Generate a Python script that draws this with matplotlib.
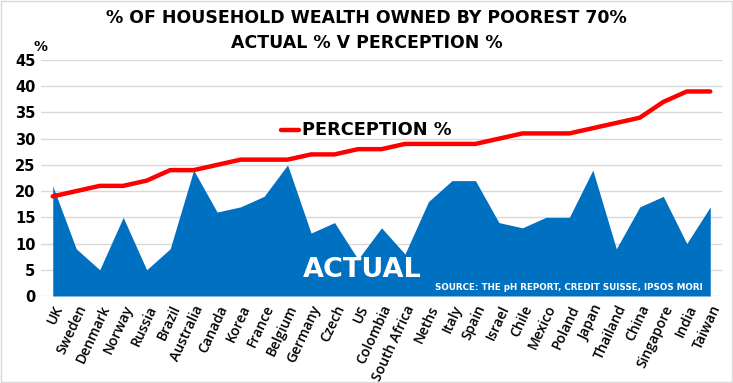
import matplotlib.pyplot as plt
from matplotlib.patches import Rectangle

countries = ['UK', 'Sweden', 'Denmark', 'Norway', 'Russia', 'Brazil', 'Australia',
             'Canada', 'Korea', 'France', 'Belgium', 'Germany', 'Czech', 'US',
             'Colombia', 'South Africa', 'Neths', 'Italy', 'Spain', 'Israel',
             'Chile', 'Mexico', 'Poland', 'Japan', 'Thailand', 'China',
             'Singapore', 'India', 'Taiwan']
actual = [21, 9, 5, 15, 5, 9, 24, 16, 17, 19, 25, 12, 14, 7, 13, 8, 18, 22, 22,
          14, 13, 15, 15, 24, 9, 17, 19, 10, 17]
perception = [19, 20, 21, 21, 22, 24, 24, 25, 26, 26, 26, 27, 27, 28, 28, 29, 29,
              29, 29, 30, 31, 31, 31, 32, 33, 34, 37, 39, 39]
yticks = [0, 5, 10, 15, 20, 25, 30, 35, 40, 45]

fig = plt.figure(figsize=(7.33, 3.83), dpi=100)
ax = fig.add_axes([41 / 733, 1 - 296 / 383, 681 / 733, 236 / 383])

x = list(range(len(countries)))
ax.fill_between(x, actual, 0, color='#0070C0', linewidth=0, zorder=2)
ax.plot(x, perception, color='#FF0000', linewidth=3.2, zorder=3,
        solid_capstyle='round')

ax.set_xlim(-0.5, len(countries) - 0.5)
ax.set_ylim(0, 45)
ax.set_yticks(yticks)
ax.set_yticklabels([str(t) for t in yticks], fontsize=10.5, fontweight='bold',
                   family='DejaVu Sans')
ax.set_xticks(x)
ax.set_xticklabels(countries, rotation=65, ha='right', va='top',
                   rotation_mode='anchor', fontsize=10, family='Open Sans',
                   fontweight='semibold')
ax.tick_params(length=0, pad=4)
ax.tick_params(axis='x', pad=5)
ax.grid(axis='y', color='#D9D9D9', linewidth=1, zorder=0)
for s in ax.spines.values():
    s.set_visible(False)

fig.text(0.5, 1 - 18 / 383, '% OF HOUSEHOLD WEALTH OWNED BY POOREST 70%',
         ha='center', va='center', fontsize=12.5, fontweight='bold')
fig.text(0.5, 1 - 43 / 383, 'ACTUAL % V PERCEPTION %',
         ha='center', va='center', fontsize=12.5, fontweight='bold')
fig.text(33 / 733, 1 - 47 / 383, '%', ha='left', va='center',
         fontsize=10, fontweight='bold')

# legend-like label for the red line
ax.plot([9.7, 10.5], [31.6, 31.6], color='#FF0000', linewidth=3.2,
        solid_capstyle='round', clip_on=False)
ax.text(10.62, 31.6, 'PERCEPTION %', ha='left', va='center', fontsize=12.8,
        fontweight='bold', color='black')

ax.text(13.2, 5.0, 'ACTUAL', ha='center', va='center', fontsize=19.5,
        fontweight='bold', color='white', zorder=4)
ax.text(27.68, 1.55, 'SOURCE: THE pH REPORT, CREDIT SUISSE, IPSOS MORI',
        ha='right', va='center', fontsize=6.3, fontweight='bold', color='white',
        zorder=4)

fig.patches.append(Rectangle((0.001, 0.002), 0.997, 0.996, transform=fig.transFigure,
                             fill=False, edgecolor='#D9D9D9', linewidth=1))

fig.savefig('out.png', dpi=100)
